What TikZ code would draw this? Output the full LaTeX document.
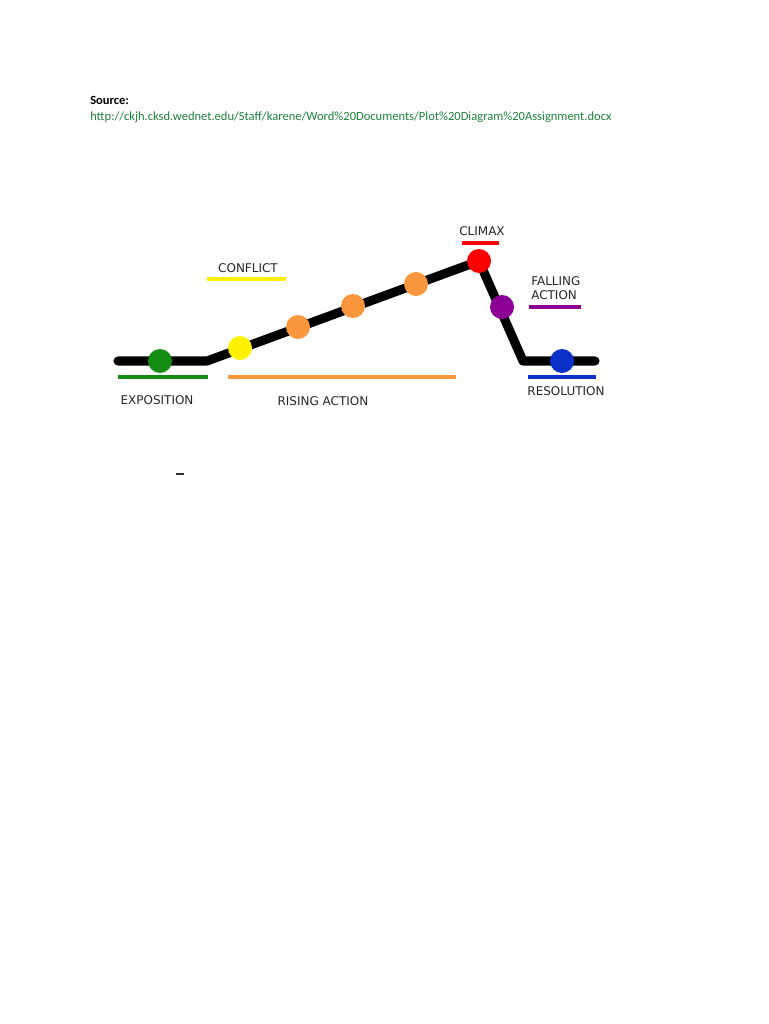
\documentclass[tikz,border=0pt]{standalone}
\usepackage{fontspec}
\setmainfont{Carlito}
\newfontfamily\labelfont{DejaVu Sans}
\definecolor{urlgreen}{RGB}{30,130,60}
\definecolor{dotgreen}{RGB}{20,140,20}
\definecolor{dotorange}{RGB}{250,150,60}
\definecolor{dotyellow}{RGB}{255,240,0}
\definecolor{dotpurple}{RGB}{140,0,150}
\definecolor{dotblue}{RGB}{10,50,200}
\begin{document}
\begin{tikzpicture}[x=0.75pt,y=-0.75pt,
    dot/.style={circle,inner sep=0pt,minimum size=18pt},
    tag/.style={font=\labelfont\fontsize{9}{10.5}\selectfont,inner sep=0pt,text=black!85},
    underline/.style={line width=2.4pt}]
    \useasboundingbox[fill=white] (0,0) rectangle (768,1024);

    \node[anchor=west,font=\bfseries\fontsize{9.4}{11}\selectfont,inner sep=0pt] (SRC) at (90,100) {Source:};
    \node[anchor=west,font=\fontsize{9.4}{11}\selectfont,text=urlgreen,inner sep=0pt] (URL) at (90,117)
      {http://ckjh.cksd.wednet.edu/Staff/karene/Word\%20Documents/Plot\%20Diagram\%20Assignment.docx};

    % the plot line
    \coordinate (START) at (118,361);
    \coordinate (BEND) at (207,361);
    \coordinate (P0) at (160,361);
    \coordinate (P1) at (240,348);
    \coordinate (P2) at (298,327);
    \coordinate (P3) at (353,306);
    \coordinate (P4) at (416,284);
    \coordinate (P5) at (479,261);
    \coordinate (P6) at (502,307);
    \coordinate (FOOT) at (523,361);
    \coordinate (P7) at (562,361);
    \coordinate (END) at (595,361);
    \draw[line width=6.8pt,line cap=round,line join=round] (START) -- (BEND) -- (P5) -- (FOOT) -- (END);

    \node[dot,fill=dotgreen] (EXPO) at (P0) {};
    \node[dot,fill=dotyellow] (CONF) at (P1) {};
    \foreach \i in {2,3,4} \node[dot,fill=dotorange] (RISE\i) at (P\i) {};
    \node[dot,fill=red] (CLIM) at (P5) {};
    \node[dot,fill=dotpurple] (FALL) at (P6) {};
    \node[dot,fill=dotblue] (RESO) at (P7) {};

    % labels and underlines
    \draw[underline,dotgreen] (118,377) -- (208,377);
    \node[tag] (TEXPO) at (157,400) {EXPOSITION};
    \draw[underline,dotorange] (228,377) -- (456,377);
    \node[tag] (TRISE) at (323,401) {RISING ACTION};
    \draw[underline,dotyellow] (207,279) -- (286,279);
    \node[tag] (TCONF) at (248,268) {CONFLICT};
    \draw[underline,red] (462,243) -- (499,243);
    \node[tag] (TCLIM) at (482,231) {CLIMAX};
    \draw[underline,dotpurple] (529,307) -- (581,307);
    \node[tag,anchor=west,align=left] (TFALL) at (531,288) {FALLING\\ACTION};
    \draw[underline,dotblue] (528,377) -- (596,377);
    \node[tag] (TRESO) at (566,391) {RESOLUTION};

    \draw[line width=0.8pt,black!80] (176,474) -- (184,474);
\end{tikzpicture}
\end{document}
